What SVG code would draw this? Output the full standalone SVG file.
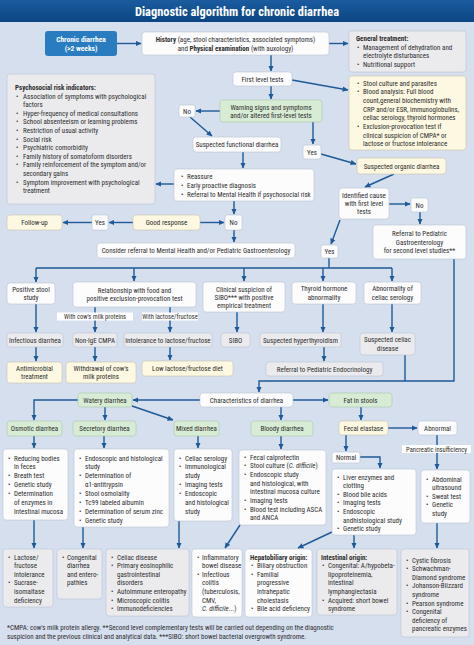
<svg xmlns="http://www.w3.org/2000/svg" width="474" height="645" viewBox="0 0 474 645">
<defs>
<linearGradient id="tg" x1="0" y1="0" x2="0" y2="1"><stop offset="0" stop-color="#1b5c9f"/><stop offset="1" stop-color="#0b4582"/></linearGradient>
<marker id="ah" viewBox="0 0 10 10" refX="9" refY="5" markerWidth="6" markerHeight="6" markerUnits="userSpaceOnUse" orient="auto"><path d="M0,0.5 L10,5 L0,9.5 z" fill="#1d5a97"/></marker>
</defs>
<style>
text{font-family:"Liberation Sans Narrow","Arial Narrow","Roboto Condensed","DejaVu Sans Condensed","Liberation Sans",sans-serif;font-size:7px;fill:#2e2e2e}
.c{text-anchor:middle}
.b{font-weight:bold}
.i{font-style:italic}
rect.w{fill:#fcfcfd;stroke:#b9c3d1;stroke-width:0.6}
rect.g{fill:#ebebee;stroke:#b9c3d1;stroke-width:0.6}
rect.y{fill:#fdf8e2;stroke:#c9c4ad;stroke-width:0.6}
rect.gr{fill:#d8ecd5;stroke:#a9c7a6;stroke-width:0.6}
rect.lb{fill:#ffffff;stroke:none}
#conn path{fill:none;stroke:#1d5a97;stroke-width:1.4}
#conn path.a{marker-end:url(#ah)}
</style>
<rect x="0" y="0" width="474" height="645" fill="#d6dfee"/>
<g id="title"><rect x="0" y="0" width="474" height="22" fill="url(#tg)"/><text x="237" y="15.5" class="c b" style="font-size:12.4px;fill:#fff">Diagnostic algorithm for chronic diarrhea</text></g>

<g id="conn">
<path class="a" d="M117,43.5 H141"/>
<path class="a" d="M329,43.5 H348"/>
<path class="a" d="M271,55 V71"/>
<path class="a" d="M292,80 L348,90"/>
<path class="a" d="M271,86 V99"/>
<path class="a" d="M220,111 H196"/>
<path class="a" d="M190,117 L212,136"/>
<path class="a" d="M313,122 V144"/>
<path class="a" d="M321,154 L356,164"/>
<path class="a" d="M243,152 V168"/>
<path class="a" d="M174,184 H156"/>
<path class="a" d="M234,201 V214"/>
<path class="a" d="M200,222.5 H224"/>
<path class="a" d="M133,222.5 H109"/>
<path class="a" d="M92,222.5 H63"/>
<path class="a" d="M234,230 V242"/>
<path class="a" d="M394,174 L365,187"/>
<path class="a" d="M389,204 H410"/>
<path class="a" d="M420,212 V224"/>
<path class="a" d="M340,220 L331,244"/>
<path d="M329,258 V268 M36,268 H392"/>
<path class="a" d="M36,268 V282"/>
<path class="a" d="M134,268 V281"/>
<path class="a" d="M244,268 V281"/>
<path class="a" d="M323,268 V281"/>
<path class="a" d="M392,268 V281"/>
<path class="a" d="M36,304 V332"/>
<path class="a" d="M95,307 V332"/>
<path class="a" d="M170,307 V332"/>
<path class="a" d="M237,312 V332"/>
<path class="a" d="M323,304 V332"/>
<path class="a" d="M392,304 V332"/>
<path class="a" d="M36,347 V361"/>
<path class="a" d="M95,347 V361"/>
<path class="a" d="M170,347 V360"/>
<path class="a" d="M324,347 V361"/>
<path d="M405,355 V381"/>
<path class="a" d="M454,259 V381 H259 V392"/>
<path class="a" d="M200,400 H133"/>
<path class="a" d="M293,400 H328"/>
<path class="a" d="M78,400 H34 V420"/>
<path class="a" d="M105,407 V420"/>
<path class="a" d="M132,406 L173,420"/>
<path class="a" d="M281,407 V420"/>
<path class="a" d="M361,407 V420"/>
<path class="a" d="M388,428 H417"/>
<path class="a" d="M437,435 V469"/>
<path class="a" d="M346,435 V451"/>
<path class="a" d="M360,457 H380 V468"/>
<path class="a" d="M34,436 V448"/>
<path class="a" d="M104,436 V448"/>
<path class="a" d="M198,436 V448"/>
<path class="a" d="M281,436 V449"/>
<path class="a" d="M34,520 V548"/>
<path class="a" d="M83,527 V548"/>
<path class="a" d="M179,521 V548"/>
<path class="a" d="M240,525 L225,548"/>
<path class="a" d="M332,532 L298,548"/>
<path class="a" d="M354,535 V548"/>
<path class="a" d="M437,523 V548"/>
</g>

<g id="labels">
<rect class="lb" x="57" y="312.5" width="76" height="8"/><text x="95" y="319" class="c" style="font-size:6.5px">With cow's milk proteins</text>
<rect class="lb" x="142" y="312.5" width="56" height="8"/><text x="170" y="319" class="c" style="font-size:6.5px">With lactose/fructose</text>
<rect class="lb" x="402" y="445" width="69" height="8"/><text x="436.5" y="451.5" class="c" style="font-size:6.5px">Pancreatic insufficiency</text>
</g>

<g id="n-chronic"><rect x="45" y="31" width="72" height="25" rx="3" fill="#2a7cc1"/><text x="81" y="41.5" class="c b" style="fill:#fff;font-size:7.5px">Chronic diarrhea</text><text x="81" y="50.5" class="c b" style="fill:#fff;font-size:7.5px">(&gt;2 weeks)</text></g>
<g id="n-history"><rect class="w" x="142" y="32" width="187" height="23" rx="3"/><text x="235.5" y="41.5" class="c"><tspan class="b">History</tspan> (age, stool characteristics, associated symptoms)</text><text x="235.5" y="50.5" class="c">and <tspan class="b">Physical examination</tspan> (with auxology)</text></g>
<g id="n-general"><rect class="g" x="349" y="31" width="117" height="41" rx="3"/><text x="356" y="41" class="b">General treatment:</text><text x="357" y="49.8">•</text><text x="363" y="49.8">Management of dehydration and</text><text x="363" y="57.8">electrolyte disturbances</text><text x="357" y="66.5">•</text><text x="363" y="66.5">Nutritional support</text></g>
<g id="n-first"><rect class="w" x="233" y="72" width="59" height="14" rx="3"/><text x="262.5" y="81.5" class="c">First level tests</text></g>
<g id="n-stool"><rect class="y" x="349" y="76" width="117" height="74" rx="3"/>
<text x="357" y="85.5">•</text><text x="363" y="85.5">Stool culture and parasites</text>
<text x="357" y="94.1">•</text><text x="363" y="94.1">Blood analysis: Full blood</text>
<text x="363" y="102.8">count,general biochemistry with</text>
<text x="363" y="111.5">CRP and/or ESR, immunoglobulins,</text>
<text x="363" y="120.1">celiac serology, thyroid hormones</text>
<text x="357" y="128.8">•</text><text x="363" y="128.8">Exclusion-provocation test if</text>
<text x="363" y="137.5">clinical suspicion of CMPA* or</text>
<text x="363" y="146.1">lactose or fructose intolerance</text></g>
<g id="n-warning"><rect class="gr" x="220" y="100" width="102" height="22" rx="3"/><text x="271" y="109.5" class="c">Warning signs and symptoms</text><text x="271" y="117.5" class="c">and/or altered first-level tests</text></g>
<g id="n-noA"><rect class="w" x="179" y="105" width="16" height="12" rx="2"/><text x="187" y="113.5" class="c">No</text></g>
<g id="n-functional"><rect class="w" x="193" y="137" width="88" height="15" rx="3"/><text x="237" y="147" class="c">Suspected functional diarrhea</text></g>
<g id="n-yesA"><rect class="w" x="303" y="145" width="18" height="14" rx="2"/><text x="312" y="154.5" class="c">Yes</text></g>
<g id="n-organic"><rect class="y" x="357" y="158" width="89" height="16" rx="3"/><text x="401.5" y="168.5" class="c">Suspected organic diarrhea</text></g>
<g id="n-psycho"><rect class="g" x="7" y="74" width="148" height="130" rx="3"/>
<text x="15" y="89.5" class="b">Psychosocial risk indicators:</text>
<text x="16" y="98.5">•</text><text x="23" y="98.5">Association of symptoms with psychological</text>
<text x="23" y="107.1">factors</text>
<text x="16" y="115.7">•</text><text x="23" y="115.7">Hyper-frequency of medical consultations</text>
<text x="16" y="124.3">•</text><text x="23" y="124.3">School absenteeism or learning problems</text>
<text x="16" y="132.9">•</text><text x="23" y="132.9">Restriction of usual activity</text>
<text x="16" y="141.5">•</text><text x="23" y="141.5">Social risk</text>
<text x="16" y="150.1">•</text><text x="23" y="150.1">Psychiatric comorbidity</text>
<text x="16" y="158.7">•</text><text x="23" y="158.7">Family history of somatoform disorders</text>
<text x="16" y="167.3">•</text><text x="23" y="167.3">Family reinforcement of the symptom and/or</text>
<text x="23" y="175.9">secondary gains</text>
<text x="16" y="184.5">•</text><text x="23" y="184.5">Symptom improvement with psychological</text>
<text x="23" y="193.1">treatment</text></g>
<g id="n-reassure"><rect class="w" x="174" y="169" width="140" height="32" rx="3"/>
<text x="181" y="178.5">•</text><text x="187" y="178.5">Reassure</text>
<text x="181" y="187.5">•</text><text x="187" y="187.5">Early proactive diagnosis</text>
<text x="181" y="196.5">•</text><text x="187" y="196.5">Referral to Mental Health if psychosocial risk</text></g>
<g id="n-noB"><rect class="w" x="225" y="215" width="17" height="15" rx="2"/><text x="233.5" y="225" class="c">No</text></g>
<g id="n-good"><rect class="y" x="133" y="215" width="67" height="15" rx="3"/><text x="166.5" y="225" class="c">Good response</text></g>
<g id="n-yesB"><rect class="w" x="92" y="215" width="16" height="15" rx="2"/><text x="100" y="225" class="c">Yes</text></g>
<g id="n-follow"><rect class="y" x="7" y="215" width="55" height="15" rx="3"/><text x="34.5" y="225" class="c">Follow-up</text></g>
<g id="n-consider"><rect class="w" x="97" y="243" width="198" height="15" rx="3"/><text x="196" y="253" class="c">Consider referral to Mental Health and/or Pediatric Gastroenterology</text></g>
<g id="n-identified"><rect class="w" x="339" y="188" width="50" height="31" rx="3"/><text x="364" y="197.5" class="c">Identified cause</text><text x="364" y="205.5" class="c">with first level</text><text x="364" y="214" class="c">tests</text></g>
<g id="n-noC"><rect class="w" x="411" y="198" width="17" height="14" rx="2"/><text x="419.5" y="207.5" class="c">No</text></g>
<g id="n-referralPG"><rect class="w" x="373" y="225" width="93" height="34" rx="3"/><text x="419.5" y="235.5" class="c">Referral to Pediatric</text><text x="419.5" y="244.5" class="c">Gastroenterology</text><text x="419.5" y="252.5" class="c">for second level studies**</text></g>
<g id="n-yesC"><rect class="w" x="321" y="245" width="17" height="13" rx="2"/><text x="329.5" y="254" class="c">Yes</text></g>
<g id="n-positive"><rect class="w" x="7" y="283" width="48" height="21" rx="3"/><text x="31" y="291.5" class="c">Positive stool</text><text x="31" y="299.5" class="c">study</text></g>
<g id="n-relationship"><rect class="w" x="73" y="282" width="123" height="25" rx="3"/><text x="134.5" y="292.5" class="c">Relationship with food and</text><text x="134.5" y="300.5" class="c">positive exclusion-provocation test</text></g>
<g id="n-sibo"><rect class="w" x="203" y="282" width="82" height="30" rx="3"/><text x="244" y="291.5" class="c">Clinical suspicion of</text><text x="244" y="299.5" class="c">SIBO*** with positive</text><text x="244" y="308" class="c">empirical treatment</text></g>
<g id="n-thyroid"><rect class="w" x="292" y="282" width="64" height="22" rx="3"/><text x="324" y="290.5" class="c">Thyroid hormone</text><text x="324" y="299.5" class="c">abnormality</text></g>
<g id="n-celiacser"><rect class="w" x="364" y="282" width="57" height="22" rx="3"/><text x="392.5" y="290.5" class="c">Abnormality of</text><text x="392.5" y="299.5" class="c">celiac serology</text></g>
<g id="n-infectious"><rect class="g" x="7" y="333" width="56" height="14" rx="3"/><text x="35" y="342.5" class="c">Infectious diarrhea</text></g>
<g id="n-nonige"><rect class="g" x="73" y="333" width="44" height="14" rx="3"/><text x="95" y="342.5" class="c">Non-IgE CMPA</text></g>
<g id="n-intol"><rect class="g" x="124" y="333" width="88" height="14" rx="3"/><text x="168" y="342.5" class="c">Intolerance to lactose/fructose</text></g>
<g id="n-sibo2"><rect class="g" x="221" y="333" width="29" height="14" rx="3"/><text x="235.5" y="342.5" class="c">SIBO</text></g>
<g id="n-hyper"><rect class="g" x="260" y="333" width="81" height="14" rx="3"/><text x="300.5" y="342.5" class="c">Suspected hyperthyroidism</text></g>
<g id="n-susceliac"><rect class="g" x="360" y="333" width="55" height="22" rx="3"/><text x="387.5" y="341.5" class="c">Suspected celiac</text><text x="387.5" y="350.5" class="c">disease</text></g>
<g id="n-antimicrobial"><rect class="y" x="7" y="362" width="55" height="21" rx="3"/><text x="34.5" y="370.5" class="c">Antimicrobial</text><text x="34.5" y="379" class="c">treatment</text></g>
<g id="n-withdrawal"><rect class="y" x="66" y="362" width="70" height="21" rx="3"/><text x="101" y="370.5" class="c">Withdrawal of cow's</text><text x="101" y="379" class="c">milk proteins</text></g>
<g id="n-lowlact"><rect class="y" x="142" y="361" width="91" height="15" rx="3"/><text x="187.5" y="371" class="c">Low lactose/fructose diet</text></g>
<g id="n-endo"><rect class="g" x="266" y="362" width="117" height="14" rx="3"/><text x="324.5" y="371.5" class="c">Referral to Pediatric Endocrinology</text></g>
<g id="n-characteristics"><rect class="w" x="200" y="393" width="93" height="14" rx="3"/><text x="246.5" y="402.5" class="c">Characteristics of diarrhea</text></g>
<g id="n-watery"><rect class="gr" x="78" y="393" width="54" height="14" rx="3"/><text x="105" y="402.5" class="c">Watery diarrhea</text></g>
<g id="n-fat"><rect class="gr" x="329" y="393" width="63" height="14" rx="3"/><text x="360.5" y="402.5" class="c">Fat in stools</text></g>
<g id="n-osmotic"><rect class="gr" x="7" y="421" width="55" height="15" rx="3"/><text x="34.5" y="431" class="c">Osmotic diarrhea</text></g>
<g id="n-secretory"><rect class="gr" x="73" y="421" width="63" height="15" rx="3"/><text x="104.5" y="431" class="c">Secretory diarrhea</text></g>
<g id="n-mixed"><rect class="gr" x="174" y="421" width="45" height="15" rx="3"/><text x="196.5" y="431" class="c">Mixed diarrhea</text></g>
<g id="n-bloody"><rect class="gr" x="251" y="421" width="62" height="15" rx="3"/><text x="282" y="431" class="c">Bloody diarrhea</text></g>
<g id="n-fecal"><rect class="y" x="339" y="421" width="49" height="14" rx="3"/><text x="363.5" y="430.5" class="c">Fecal elastase</text></g>
<g id="n-abnormal"><rect class="w" x="418" y="421" width="39" height="14" rx="3"/><text x="437.5" y="430.5" class="c">Abnormal</text></g>
<g id="n-normal"><rect class="w" x="332" y="452" width="28" height="11" rx="2"/><text x="346" y="460" class="c">Normal</text></g>
<g id="n-osmdet"><rect class="w" x="3" y="449" width="65" height="71" rx="3"/>
<text x="8" y="460.5">•</text><text x="14" y="460.5">Reducing bodies</text>
<text x="14" y="469.4">in feces</text>
<text x="8" y="478.3">•</text><text x="14" y="478.3">Breath test</text>
<text x="8" y="487.2">•</text><text x="14" y="487.2">Genetic study</text>
<text x="8" y="496.1">•</text><text x="14" y="496.1">Determination</text>
<text x="14" y="505">of enzymes in</text>
<text x="14" y="513.9">intestinal mucosa</text></g>
<g id="n-secdet"><rect class="w" x="74" y="449" width="95" height="78" rx="3"/>
<text x="79" y="460.5">•</text><text x="85" y="460.5">Endoscopic and histological</text>
<text x="85" y="469.4">study</text>
<text x="79" y="478.3">•</text><text x="85" y="478.3">Determination of</text>
<text x="85" y="487.2">α1-antitrypsin</text>
<text x="79" y="496.1">•</text><text x="85" y="496.1">Stool osmolality</text>
<text x="79" y="505">•</text><text x="85" y="505">Tc99 labeled albumin</text>
<text x="79" y="513.9">•</text><text x="85" y="513.9">Determination of serum zinc</text>
<text x="79" y="522.8">•</text><text x="85" y="522.8">Genetic study</text></g>
<g id="n-mixdet"><rect class="w" x="174" y="449" width="58" height="72" rx="3"/>
<text x="179" y="460.5">•</text><text x="185" y="460.5">Celiac serology</text>
<text x="179" y="469.4">•</text><text x="185" y="469.4">Immunological</text>
<text x="185" y="478.3">study</text>
<text x="179" y="487.2">•</text><text x="185" y="487.2">Imaging tests</text>
<text x="179" y="496.1">•</text><text x="185" y="496.1">Endoscopic</text>
<text x="185" y="505">and histological</text>
<text x="185" y="513.9">study</text></g>
<g id="n-blooddet"><rect class="w" x="239" y="450" width="87" height="75" rx="3"/>
<text x="244" y="459.5">•</text><text x="250" y="459.5">Fecal calprotectin</text>
<text x="244" y="468.2">•</text><text x="250" y="468.2">Stool culture (<tspan class="i">C. difficile</tspan>)</text>
<text x="244" y="476.9">•</text><text x="250" y="476.9">Endoscopic study</text>
<text x="250" y="485.6">and histological, with</text>
<text x="250" y="494.3">intestinal mucosa culture</text>
<text x="244" y="503">•</text><text x="250" y="503">Imaging tests</text>
<text x="244" y="511.7">•</text><text x="250" y="511.7">Blood test including ASCA</text>
<text x="250" y="520.4">and ANCA</text></g>
<g id="n-liverdet"><rect class="w" x="332" y="469" width="84" height="66" rx="3"/>
<text x="337" y="479.5">•</text><text x="343" y="479.5">Liver enzymes and</text>
<text x="343" y="488.1">clotting</text>
<text x="337" y="496.7">•</text><text x="343" y="496.7">Blood bile acids</text>
<text x="337" y="505.3">•</text><text x="343" y="505.3">Imaging tests</text>
<text x="337" y="513.9">•</text><text x="343" y="513.9">Endoscopic</text>
<text x="343" y="522.5">andhistological study</text>
<text x="337" y="531.1">•</text><text x="343" y="531.1">Genetic study</text></g>
<g id="n-pancdet"><rect class="w" x="421" y="470" width="49" height="53" rx="3"/>
<text x="426" y="481.5">•</text><text x="432" y="481.5">Abdominal</text>
<text x="432" y="490.1">ultrasound</text>
<text x="426" y="498.7">•</text><text x="432" y="498.7">Sweat test</text>
<text x="426" y="507.3">•</text><text x="432" y="507.3">Genetic</text>
<text x="432" y="515.9">study</text></g>
<g id="n-lactose"><rect class="g" x="3" y="549" width="50" height="58" rx="3"/>
<text x="8" y="559.5">•</text><text x="14" y="559.5">Lactose/</text>
<text x="14" y="568.1">fructose</text>
<text x="14" y="576.7">intolerance</text>
<text x="8" y="585.3">•</text><text x="14" y="585.3">Sucrase-</text>
<text x="14" y="593.9">isomaltase</text>
<text x="14" y="602.5">deficiency</text></g>
<g id="n-congenital"><rect class="g" x="57" y="549" width="45" height="50" rx="3"/>
<text x="62" y="559.5">•</text><text x="67" y="559.5">Congenital</text>
<text x="67" y="568.1">diarrhea</text>
<text x="67" y="576.7">and entero-</text>
<text x="67" y="585.3">pathies</text></g>
<g id="n-celiacdis"><rect class="g" x="106" y="549" width="83" height="67" rx="3"/>
<text x="111" y="559.5">•</text><text x="117" y="559.5">Celiac disease</text>
<text x="111" y="568.1">•</text><text x="117" y="568.1">Primary eosinophilic</text>
<text x="117" y="576.7">gastrointestinal</text>
<text x="117" y="585.3">disorders</text>
<text x="111" y="593.9">•</text><text x="117" y="593.9">Autoimmune enteropathy</text>
<text x="111" y="602.5">•</text><text x="117" y="602.5">Microscopic colitis</text>
<text x="111" y="611.1">•</text><text x="117" y="611.1">Immunodeficiencies</text></g>
<g id="n-inflam"><rect class="w" x="192" y="549" width="50" height="68" rx="3"/>
<text x="197" y="559.5">•</text><text x="202" y="559.5">Inflammatory</text>
<text x="202" y="568.1">bowel disease</text>
<text x="197" y="576.7">•</text><text x="202" y="576.7">Infectious</text>
<text x="202" y="585.3">colitis</text>
<text x="202" y="593.9">(tuberculosis,</text>
<text x="202" y="602.5">CMV,</text>
<text x="202" y="611.1"><tspan class="i">C. difficile</tspan>...)</text></g>
<g id="n-hepato"><rect class="w" x="245" y="549" width="67" height="68" rx="3"/>
<text x="250" y="559.5" class="b">Hepatobiliary origin:</text>
<text x="251" y="568.1">•</text><text x="257" y="568.1">Biliary obstruction</text>
<text x="251" y="576.7">•</text><text x="257" y="576.7">Familial</text>
<text x="257" y="585.3">progressive</text>
<text x="257" y="593.9">intrahepatic</text>
<text x="257" y="602.5">cholestasis</text>
<text x="251" y="611.1">•</text><text x="257" y="611.1">Bile acid deficiency</text></g>
<g id="n-intestinal"><rect class="g" x="317" y="549" width="80" height="66" rx="3"/>
<text x="321" y="559.5" class="b">Intestinal origin:</text>
<text x="322" y="568.1">•</text><text x="328" y="568.1">Congenital: A/hypobeta-</text>
<text x="328" y="576.7">lipoproteinemia,</text>
<text x="328" y="585.3">intestinal</text>
<text x="328" y="593.9">lymphangiectasia</text>
<text x="322" y="602.5">•</text><text x="328" y="602.5">Acquired: short bowel</text>
<text x="328" y="611.1">syndrome</text></g>
<g id="n-cystic"><rect class="g" x="401" y="549" width="68" height="88" rx="3"/>
<text x="406" y="562.5">•</text><text x="412" y="562.5">Cystic fibrosis</text>
<text x="406" y="571.1">•</text><text x="412" y="571.1">Schwachman-</text>
<text x="412" y="579.7">Diamond syndrome</text>
<text x="406" y="588.3">•</text><text x="412" y="588.3">Johanson-Blizzard</text>
<text x="412" y="596.9">syndrome</text>
<text x="406" y="605.5">•</text><text x="412" y="605.5">Pearson syndrome</text>
<text x="406" y="614.1">•</text><text x="412" y="614.1">Congenital</text>
<text x="412" y="622.7">deficiency of</text>
<text x="412" y="631.3">pancreatic enzymes</text></g>
<g id="footnotes">
<text x="7" y="630">*CMPA: cow's milk protein allergy.  **Second level complementary tests will be carried out depending on the diagnostic</text>
<text x="7" y="639">suspicion and the previous clinical and analytical data.  ***SIBO: short bowel bacterial overgrowth syndrome.</text>
</g>
</svg>
